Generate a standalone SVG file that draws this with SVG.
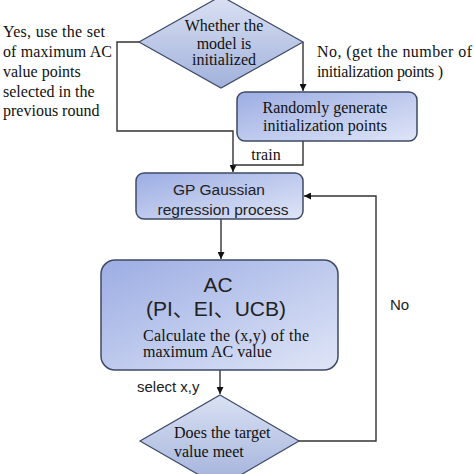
<svg xmlns="http://www.w3.org/2000/svg" width="474" height="474" viewBox="0 0 474 474">
<defs>
<linearGradient id="gBox" x1="0" y1="0" x2="1" y2="1">
<stop offset="0" stop-color="#9cade3"/>
<stop offset="1" stop-color="#dfe5f7"/>
</linearGradient>
<linearGradient id="gDia" x1="0" y1="0" x2="0" y2="1">
<stop offset="0" stop-color="#dae1f3"/>
<stop offset="1" stop-color="#a1b1db"/>
</linearGradient>
<marker id="arr" viewBox="0 0 10 10" refX="10" refY="5" markerWidth="7" markerHeight="7" markerUnits="userSpaceOnUse" orient="auto">
<path d="M0,0 L10,5 L0,10 z" fill="#111"/>
</marker>
</defs>
<style>
.box{fill:url(#gBox);stroke:#3e4a66;stroke-width:1.5}
.dia{fill:url(#gDia);stroke:#3e4a66;stroke-width:1.2}
.ln{fill:none;stroke:#333;stroke-width:1.4}
.ser{font-family:"Liberation Serif","Times New Roman",serif;font-size:16px;fill:#111}
.san{font-family:"Liberation Sans","Noto Sans CJK SC",sans-serif;fill:#222}
</style>
<rect width="474" height="474" fill="#fff"/>
<g id="connectors">
<polyline class="ln" points="139,42 117,42 117,131 233,131 233,172" marker-end="url(#arr)"/>
<polyline class="ln" points="303,42 303,91" marker-end="url(#arr)"/>
<polyline class="ln" points="303,141 303,165 233,165"/>
<polyline class="ln" points="221,219 221,259" marker-end="url(#arr)"/>
<polyline class="ln" points="220,370 220,394" marker-end="url(#arr)"/>
<polyline class="ln" points="299,441 376,441 376,196 304,196" marker-end="url(#arr)"/>
</g>
<g id="decision1">
<polygon class="dia" points="221,-4 303,42 221,88 139,42"/>
<text class="ser" x="224" y="31" text-anchor="middle">Whether the</text>
<text class="ser" x="224" y="49" text-anchor="middle">model is</text>
<text class="ser" x="224" y="65" text-anchor="middle">initialized</text>
</g>
<g id="label-yes">
<text class="ser" x="3" y="37" textLength="102">Yes, use the set</text>
<text class="ser" x="3" y="57" textLength="109">of maximum AC</text>
<text class="ser" x="3" y="77">value points</text>
<text class="ser" x="3" y="97">selected in the</text>
<text class="ser" x="3" y="116">previous round</text>
</g>
<g id="label-no1">
<text class="ser" x="317" y="57" textLength="155">No, (get the number of</text>
<text class="ser" x="317" y="77" textLength="126">initialization points )</text>
</g>
<g id="random">
<rect class="box" x="237" y="92" width="180" height="49" rx="8"/>
<text class="ser" x="325" y="113" text-anchor="middle">Randomly generate</text>
<text class="ser" x="325" y="131" text-anchor="middle">initialization points</text>
</g>
<g id="label-train">
<text class="ser" x="266" y="160" text-anchor="middle">train</text>
</g>
<g id="gp">
<rect class="box" x="136" y="173" width="167" height="46" rx="8"/>
<text class="san" x="219" y="195" text-anchor="middle" font-size="15.5">GP Gaussian</text>
<text class="san" x="223" y="215" text-anchor="middle" font-size="15.5">regression process</text>
</g>
<g id="ac">
<rect class="box" x="101" y="260" width="237" height="110" rx="14"/>
<text class="san" x="218" y="292" text-anchor="middle" font-size="21">AC</text>
<text class="san" x="216" y="316" text-anchor="middle" font-size="21">(PI、EI、UCB)</text>
<text class="ser" x="143" y="341" textLength="166">Calculate the (x,y) of the</text>
<text class="ser" x="143" y="357">maximum AC value</text>
</g>
<g id="label-select">
<text class="san" x="137" y="392" font-size="15">select x,y</text>
</g>
<g id="decision2">
<polygon class="dia" points="220,395 299,441 220,487 140,441"/>
<text class="ser" x="174" y="438">Does the target</text>
<text class="ser" x="174" y="457">value meet</text>
</g>
<g id="label-no2">
<text class="san" x="390" y="310" font-size="15">No</text>
</g>
</svg>
